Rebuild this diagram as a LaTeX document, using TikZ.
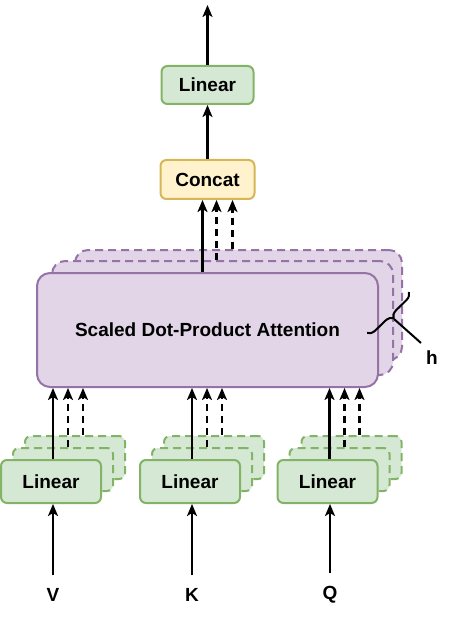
\documentclass[tikz,border=0pt]{standalone}
\usepackage{fontspec}
\setmainfont{Liberation Sans}
\usepackage{xcolor}
\usepackage{tikz}
\usetikzlibrary{arrows.meta,positioning,decorations.pathreplacing}
\definecolor{grnfill}{HTML}{D5E8D4}
\definecolor{grndraw}{HTML}{82B366}
\definecolor{ylwfill}{HTML}{FFF2CC}
\definecolor{ylwdraw}{HTML}{D6B656}
\definecolor{prpfill}{HTML}{E1D5E7}
\definecolor{prpdraw}{HTML}{9673A6}

\begin{document}
\begin{tikzpicture}[x=1pt, y=-1pt,
    lbl/.style={font=\fontsize{19}{21}\selectfont\bfseries, inner sep=3pt},
    linbox/.style={lbl, draw=grndraw, fill=grnfill, rounded corners=6pt, line width=2pt, minimum width=100pt, minimum height=43pt},
    linlayer/.style={linbox, dash pattern=on 8pt off 5pt},
    catbox/.style={lbl, draw=ylwdraw, fill=ylwfill, rounded corners=6pt, line width=2pt, minimum width=94pt, minimum height=39pt},
    attnbox/.style={lbl, draw=prpdraw, fill=prpfill, rounded corners=13pt, line width=2pt, minimum width=341pt, minimum height=114pt},
    attnlayer/.style={attnbox, dash pattern=on 8pt off 5pt},
    arrow/.style={-{Stealth[length=12pt,width=10pt,inset=3pt]}, line width=2.2pt, draw=black},
    dasharrow/.style={arrow, dash pattern=on 7pt off 5pt}
]
\useasboundingbox (0,0) rectangle (474,620);

\node[attnlayer, minimum width=327pt, minimum height=110pt, xshift=31pt, yshift=25pt] (attn3) at (207.5,330) {};
\node[attnlayer, xshift=15pt, yshift=12pt] (attn2) at (207.5,330) {};
\node[attnbox] (attn) at (207.5,330) {Scaled Dot-Product Attention};

\node[catbox, above=72pt of attn] (concat) {Concat};
\node[linbox, above=54pt of concat, minimum width=92pt, minimum height=38pt] (linout) {Linear};
\coordinate[above=60pt of linout] (out);

\draw[arrow] (linout) -- (out);
\draw[arrow] (concat) -- (linout);
\draw[arrow] ([xshift=-5pt]concat.south |- attn.north) -- ([xshift=-5pt]concat.south);
\draw[dasharrow] ([xshift=9pt]concat.south |- attn2.north) -- ([xshift=9pt]concat.south);
\draw[dasharrow] ([xshift=25pt]concat.south |- attn3.north) -- ([xshift=25pt]concat.south);

\coordinate (brstart) at (409,292);
\coordinate (brend) at (367,333);
\coordinate (brtip) at (394,319);
\coordinate (hline) at (421,343);
\draw[decorate, decoration={brace, amplitude=8pt}, line width=2pt] (brstart) -- (brend);
\draw[line width=2pt] (brtip) -- (hline);
\node[lbl] (hlbl) at (432,358) {h};

\node[linlayer, xshift=24pt, yshift=24pt] (linV3) at (51,481.5) {};
\node[linlayer, xshift=12pt, yshift=12pt] (linV2) at (51,481.5) {};
\node[linbox] (linV) at (51,481.5) {Linear};

\node[linlayer, xshift=24pt, yshift=24pt] (linK3) at (190,481.5) {};
\node[linlayer, xshift=12pt, yshift=12pt] (linK2) at (190,481.5) {};
\node[linbox] (linK) at (190,481.5) {Linear};

\node[linlayer, xshift=24pt, yshift=24pt] (linQ3) at (327.5,481.5) {};
\node[linlayer, xshift=12pt, yshift=12pt] (linQ2) at (327.5,481.5) {};
\node[linbox] (linQ) at (327.5,481.5) {Linear};

\draw[arrow] ([xshift=2pt]linV.north) -- ([xshift=2pt]linV.north |- attn.south);
\draw[dasharrow] ([xshift=17pt]linV.north |- linV2.north) -- ([xshift=17pt]linV.north |- attn.south);
\draw[dasharrow] ([xshift=32pt]linV.north |- linV3.north) -- ([xshift=32pt]linV.north |- attn.south);

\draw[arrow] ([xshift=2pt]linK.north) -- ([xshift=2pt]linK.north |- attn.south);
\draw[dasharrow] ([xshift=17pt]linK.north |- linK2.north) -- ([xshift=17pt]linK.north |- attn.south);
\draw[dasharrow] ([xshift=32pt]linK.north |- linK3.north) -- ([xshift=32pt]linK.north |- attn.south);

\draw[arrow] ([xshift=2pt]linQ.north) -- ([xshift=2pt]linQ.north |- attn.south);
\draw[dasharrow] ([xshift=17pt]linQ.north |- linQ2.north) -- ([xshift=17pt]linQ.north |- attn.south);
\draw[dasharrow] ([xshift=32pt]linQ.north |- linQ3.north) -- ([xshift=32pt]linQ.north |- attn.south);

\node[lbl] (inV) at (53,595) {V};
\node[lbl] (inK) at (192,595) {K};
\node[lbl] (inQ) at (330,595) {Q};

\draw[arrow] ([yshift=10pt]inV.north) -- (inV |- linV.south);
\draw[arrow] ([yshift=10pt]inK.north) -- (inK |- linK.south);
\draw[arrow] ([yshift=10pt]inQ.north) -- (inQ |- linQ.south);

\end{tikzpicture}
\end{document}
